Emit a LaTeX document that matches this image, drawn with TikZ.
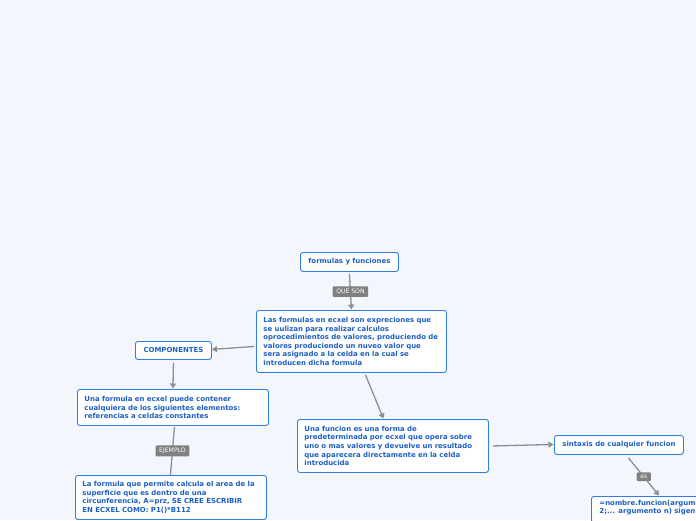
\documentclass[tikz,border=0pt]{standalone}
\usepackage{fontspec}
\setmainfont{DejaVu Sans}
\usetikzlibrary{arrows.meta,calc}
\definecolor{bgc}{RGB}{243,246,253}
\definecolor{boxblue}{RGB}{47,127,224}
\definecolor{txtblue}{RGB}{27,95,196}
\definecolor{linegray}{RGB}{140,142,146}
\definecolor{labgray}{RGB}{128,128,128}
\tikzset{
  box/.style={draw=boxblue, fill=white, rounded corners=2.5pt, line width=0.9pt,
    text=txtblue, font=\fontsize{6.95}{8.6}\selectfont\bfseries, anchor=north west,
    inner xsep=0pt, inner ysep=0pt},
  conn/.style={draw=linegray, line width=1.3pt},
  arr/.style={conn, -{Triangle[width=6pt,length=5pt]}},
  lab/.style={fill=labgray, text=white, rounded corners=1pt, font=\fontsize{6.1}{7}\selectfont,
    inner xsep=3.6pt, inner ysep=2.6pt},
}
\begin{document}
\begin{tikzpicture}[x=1pt,y=-1pt]
\fill[bgc] (0,0) rectangle (696,520);
\useasboundingbox (0,0) rectangle (696,520);
\clip (0,0) rectangle (696,520);
% boxes
\node[box, minimum width=98pt, minimum height=19pt, align=center] (A) at (300,252) {formulas y funciones};
\node[box, minimum width=190pt, minimum height=62pt, text width=176pt, align=left, inner xsep=7pt] (B) at (256,310)
 {Las formulas en ecxel son expreciones que\\se uulizan para realizar calculos\\oprocedimientos de valores, produciendo de\\valores produciendo un nuveo valor que\\sera asignado a la celda en la cual se\\introducen dicha formula};
\node[box, minimum width=76pt, minimum height=18pt, align=center] (C) at (135,341) {COMPONENTES};
\node[box, minimum width=191pt, minimum height=36pt, text width=177pt, align=left, inner xsep=7pt] (D) at (77,389)
 {Una formula en ecxel puede contener\\cualquiera de los siguientes elementos:\\referencias a celdas constantes};
\node[box, minimum width=191pt, minimum height=44pt, text width=177pt, align=left, inner xsep=7pt] (E) at (75,475)
 {La formula que permite calcula el area de la\\superficie que es dentro de una\\circunferencia, A=prz, SE CREE ESCRIBIR\\EN ECXEL COMO: P1()*B112};
\node[box, minimum width=191pt, minimum height=53pt, text width=177pt, align=left, inner xsep=7pt] (F) at (297,419)
 {Una funcion es una forma de\\predeterminada por ecxel que opera sobre\\uno o mas valores y devuelve un resultado\\que aparecera directamente en la celda\\introducida};
\node[box, minimum width=200pt, text width=184pt, align=left, inner xsep=8pt, inner ysep=3.5pt, text depth=14pt] (H) at (591,496)
 {=nombre.funcion(argumento 1; argumento\\2;... argumento n) sigen};
\node[box, minimum width=129pt, minimum height=19pt, align=center] (G) at (554,435) {sintaxis de cualquier funcion};
% connectors
\draw[arr] ($(A.south)+(0,2)$) -- node[lab] (l1) {QUE SON} ($(B.north)+(0,-0.5)$);
\draw[arr] ($(B.west)+(-2,5)$) -- ($(C.east)+(0,-1)$);
\draw[arr] ($(C.south)+(0,3)$) -- ($(D.north)+(0,-0.5)$);
\draw[conn] ($(D.south)+(1.5,1)$) -- node[lab] (l2) {EJEMPLO} ($(E.north)+(-0.5,0)$);
\draw[arr] ($(B.south)+(14,2)$) -- ($(F.north)+(-9.5,-0.5)$);
\draw[arr] ($(F.east)+(4,0)$) -- ($(G.west)+(-0.5,-0.5)$);
\draw[arr] ($(G.south)+(9.5,3)$) -- node[lab] (l3) {es} ($(H.north west)+(68,-0.5)$);
\end{tikzpicture}
\end{document}
